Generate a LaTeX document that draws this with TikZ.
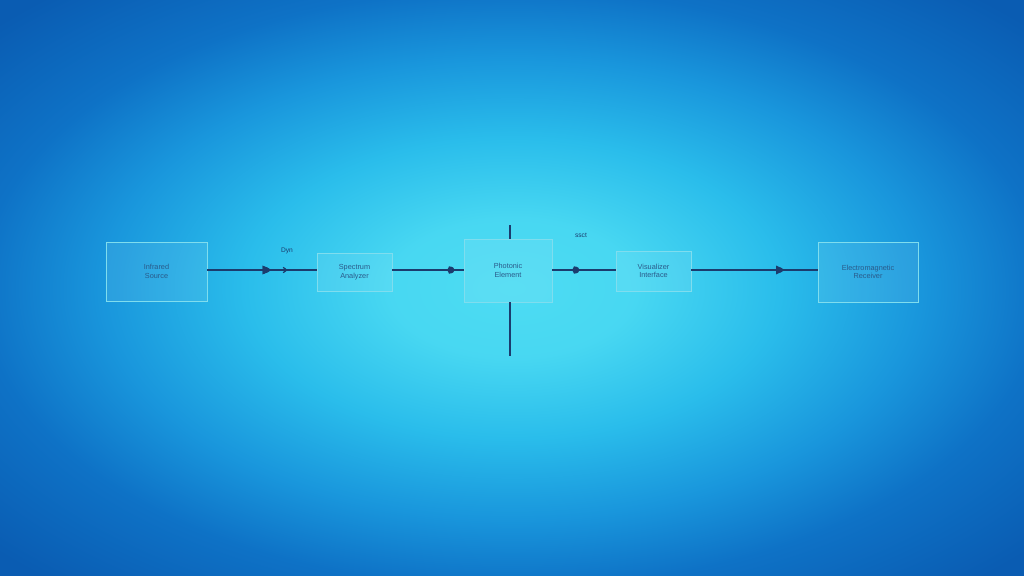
\documentclass[tikz,border=0pt]{standalone}
\usepackage{fontspec}
\setmainfont{Liberation Sans}
\usetikzlibrary{decorations.markings,arrows.meta}
\definecolor{cA}{HTML}{4DDCF3}
\definecolor{cB}{HTML}{2ABDEB}
\definecolor{cC}{HTML}{1996DC}
\definecolor{cD}{HTML}{0E72C6}
\definecolor{cE}{HTML}{0A5CB2}
\definecolor{linec}{HTML}{1B3C6E}
\definecolor{boxline}{HTML}{7FDDEE}
\definecolor{txtc}{HTML}{2A5A8A}
\pgfdeclareradialshading{bgshade}{\pgfpoint{0bp}{0bp}}{color(0bp)=(cA); color(6bp)=(cA!85!cB); color(13bp)=(cB); color(20bp)=(cC); color(26bp)=(cD); color(34bp)=(cE); color(50bp)=(cE)}
\tikzset{
  blk/.style={draw=boxline, line width=0.5pt, fill=white, fill opacity=0.08, text opacity=1, align=center, font=\fontsize{5.5}{6.5}\selectfont, text=txtc, inner sep=0pt},
  conn/.style={draw=linec, line width=1.1pt},
  lbl/.style={font=\fontsize{5}{6}\selectfont, text=linec, inner sep=0pt},
  dotmark/.style={postaction={decorate}, decoration={markings, mark=at position #1 with {\fill[linec] (0,0) circle (2.6pt); \fill[linec] (-1.5pt,-3pt) -- (3.6pt,0) -- (-1.5pt,3pt) -- cycle;}}},
  arrmark/.style={postaction={decorate}, decoration={markings, mark=at position #1 with {\fill[linec] (-3.6pt,-3.3pt) -- (3.2pt,0) -- (-3.6pt,3.3pt) -- cycle; \fill[linec] (-0.8pt,0) circle (2pt);}}}
}
\begin{document}
\begin{tikzpicture}[x=0.0264cm,y=-0.0264cm]
\shade[shading=bgshade] (0,0) rectangle (1024,576);
\useasboundingbox (0,0) rectangle (1024,576);
\node[blk, minimum width=101*0.0264cm, minimum height=59*0.0264cm] (b1) at (156.5,271.5) {Infrared\\Source};
\node[blk, minimum width=75*0.0264cm, minimum height=38*0.0264cm] (b2) at (354.5,272) {Spectrum\\Analyzer};
\node[blk, minimum width=88*0.0264cm, minimum height=63*0.0264cm] (b3) at (508,270.5) {Photonic\\Element};
\node[blk, minimum width=75*0.0264cm, minimum height=40*0.0264cm] (b4) at (653.5,271) {Visualizer\\Interface};
\node[blk, minimum width=100*0.0264cm, minimum height=60*0.0264cm] (b5) at (868,272) {Electromagnetic\\Receiver};
\coordinate (vt) at (510,225);
\coordinate (vb) at (510,356);
\draw[conn, arrmark=0.55, postaction={decorate}, decoration={markings, mark=at position 0.72 with {\draw[linec, line width=0.7pt] (-2.2pt,-2pt) -- (0.6pt,0) -- (-2.2pt,2pt);}}] (b1.east|-0,270) -- (b2.west|-0,270);
\draw[conn, dotmark=0.82] (b2.east|-0,270) -- (b3.west|-0,270);
\draw[conn, dotmark=0.37] (b3.east|-0,270) -- (b4.west|-0,270);
\draw[conn, arrmark=0.71] (b4.east|-0,270) -- (b5.west|-0,270);
\draw[conn, line width=0.8pt] (vt) -- (vt|-b3.north);
\draw[conn, line width=0.8pt] (vb|-b3.south) -- (vb);
\node[lbl] (l1) at (287,251) {Dyn};
\node[lbl] (l2) at (581,235) {ssct};
\end{tikzpicture}
\end{document}
